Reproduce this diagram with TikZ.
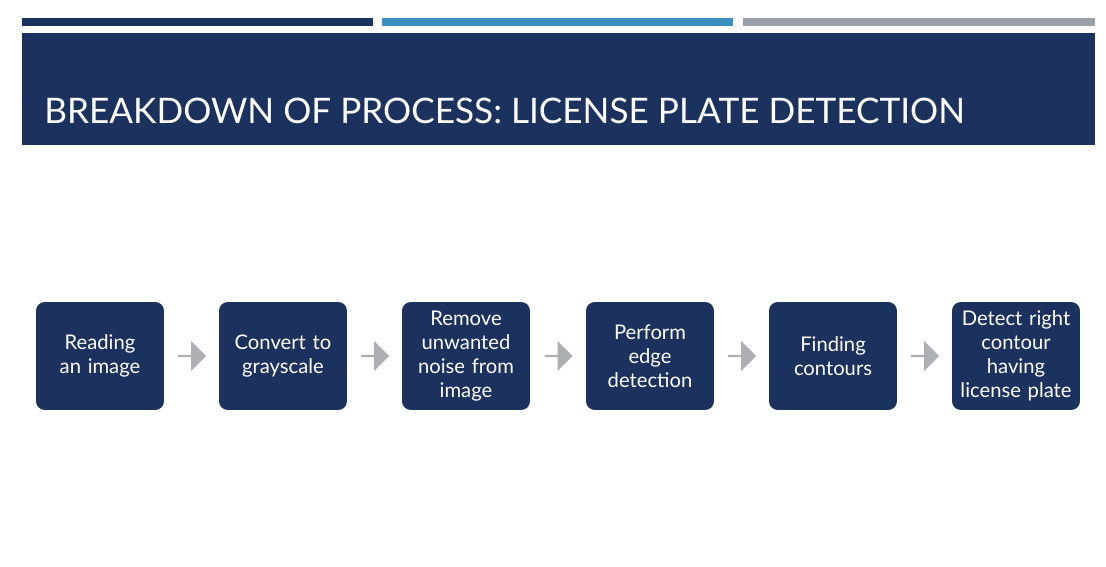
\documentclass[tikz,border=0pt]{standalone}
\usepackage{fontspec}
\setmainfont{Lato}
\usetikzlibrary{shapes.arrows,positioning,calc}
\definecolor{navy}{HTML}{1B325F}
\definecolor{skyblue}{HTML}{3A8FBF}
\definecolor{bargray}{HTML}{9AA0A8}
\definecolor{arrowgray}{HTML}{ADAFB5}
\begin{document}
\begin{tikzpicture}[x=0.02cm,y=-0.02cm,
    step box/.style={rectangle,rounded corners=5pt,fill=navy,text=white,minimum width=2.56cm,minimum height=2.16cm,
      text width=2.4cm,align=center,font=\fontsize{11.5}{13.6}\selectfont,inner sep=0pt},
    flow arrow/.style={single arrow,fill=arrowgray,minimum height=0.56cm,minimum width=0.6cm,
      single arrow head extend=0.08cm,inner sep=0pt}]
  \useasboundingbox (0,0) rectangle (1106,567);
  % top bars and title band
  \fill[navy] (22,18) rectangle (373,26);
  \fill[skyblue] (382,18) rectangle (733,26);
  \fill[bargray] (743,18) rectangle (1095,26);
  \fill[navy] (22,33) rectangle (1095,145);
  \node[anchor=base west,text=white,font=\fontsize{20}{24}\selectfont,inner sep=0pt] (title) at (44,124)
    {BREAKDOWN OF PROCESS: LICENSE PLATE DETECTION};
  % steps
  \node[step box] (s1) at (100,356) {Reading an image};
  \node[step box] (s2) at (283,356) {Convert to grayscale};
  \node[step box] (s3) at (466,356) {Remove unwanted noise from image};
  \node[step box] (s4) at (650,356) {Perform edge detection};
  \node[step box] (s5) at (833,356) {Finding contours};
  \node[step box] (s6) at (1016,356) {};
  \begin{scope}
    \clip[rounded corners=5pt] (s6.south west) rectangle (s6.north east);
    \node[text=white,text width=2.4cm,align=center,font=\fontsize{11.5}{13.6}\selectfont,inner sep=0pt] (s6text) at (s6.center)
      {Detect right contour having license plate};
  \end{scope}
  % arrows
  \foreach \a/\b in {s1/s2,s2/s3,s3/s4,s4/s5,s5/s6}
    \node[flow arrow] at ($(\a.east)!0.5!(\b.west)$) {};
\end{tikzpicture}
\end{document}
